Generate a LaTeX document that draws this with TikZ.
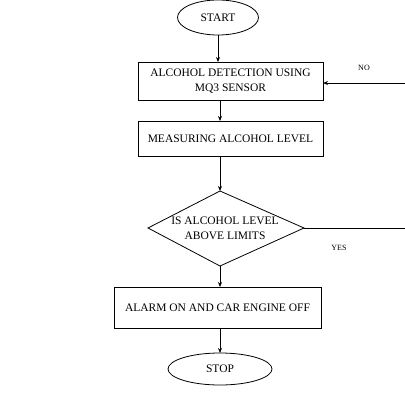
\documentclass[tikz,border=0pt]{standalone}
\usepackage{fontspec}
\setmainfont{Liberation Serif}
\usetikzlibrary{arrows.meta,shapes.geometric}
\begin{document}
\begin{tikzpicture}[x=1pt,y=-1pt,
  every node/.style={inner sep=0pt,outer sep=0pt},
  txt/.style={font=\fontsize{11.5}{15}\selectfont,align=center},
  small/.style={font=\fontsize{8}{10}\selectfont},
  procbox/.style={draw,line width=0.8pt,txt},
  term/.style={draw,ellipse,line width=0.8pt,txt},
  conn/.style={line width=0.8pt},
  arr/.style={conn,-{Stealth[length=5pt,width=4pt]}}]
\useasboundingbox (0,0) rectangle (405,405);
\node[term,minimum width=81pt,minimum height=35pt] (start) at (218,17.5) {START};
\node[procbox,minimum width=185pt,minimum height=38pt] (b1) at (230.5,81) {ALCOHOL DETECTION USING\\MQ3 SENSOR};
\node[procbox,minimum width=185pt,minimum height=35pt] (b2) at (230.5,138.5) {MEASURING ALCOHOL LEVEL};
\coordinate (dt) at (220,191);
\coordinate (dr) at (304,228);
\coordinate (db) at (220,266);
\coordinate (dl) at (148,228);
\draw[conn] (dt) -- (dr) -- (db) -- (dl) -- cycle;
\node[txt] (dtext) at (225,228) {IS ALCOHOL LEVEL\\ABOVE LIMITS};
\node[procbox,minimum width=207pt,minimum height=41pt] (b3) at (217.5,307.5) {ALARM ON AND CAR ENGINE OFF};
\node[term,minimum width=104pt,minimum height=32pt] (stop) at (220,369) {STOP};
\coordinate (rb) at (407,228);
\coordinate (rt) at (407,83);
\draw[arr] (start.south) -- (start.south |- b1.north);
\draw[arr] (b1.south -| dt) -- (b2.north -| dt);
\draw[arr] (b2.south -| dt) -- (dt);
\draw[arr] (db) -- (db |- b3.north);
\draw[arr] (b3.south -| stop.north) -- (stop.north);
\draw[conn] (dr) -- (rb);
\draw[arr] (rt) -- (rt -| b1.east);
\node[small] (no) at (364,68) {NO};
\node[small] (yes) at (339,248) {YES};
\end{tikzpicture}
\end{document}
